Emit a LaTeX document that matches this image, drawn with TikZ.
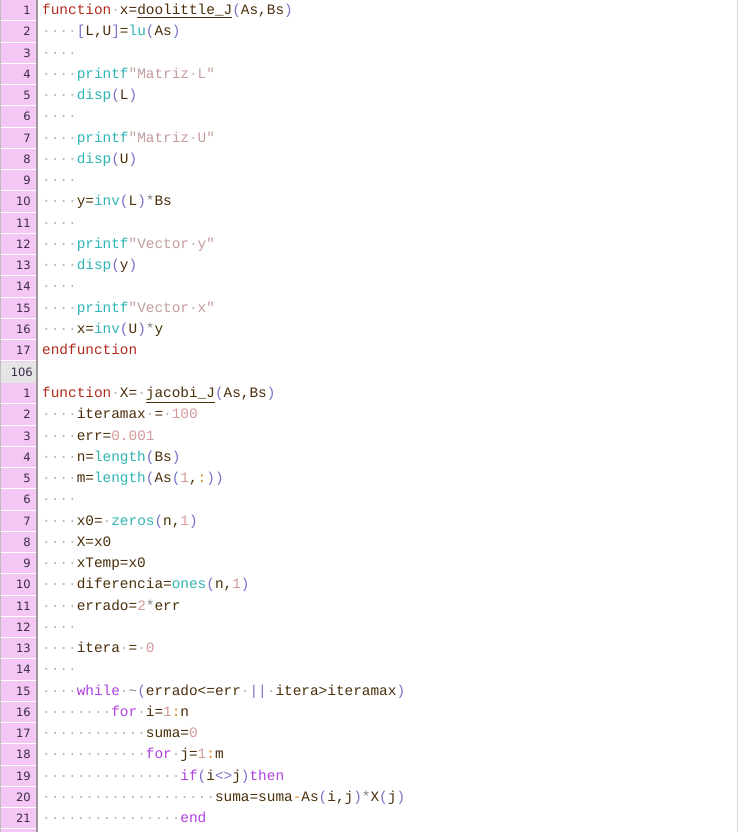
\documentclass[tikz,border=0pt]{standalone}
\usepackage{fontspec}
\setmonofont{Liberation Mono}
\newfontfamily\numfont{DejaVu Sans}
\definecolor{idc}{HTML}{4A2E0A}
\definecolor{kwc}{HTML}{B02A1E}
\definecolor{fnc}{HTML}{30B4B4}
\definecolor{pac}{HTML}{7A72C8}
\definecolor{stc}{HTML}{C49C9C}
\definecolor{nuc}{HTML}{D49A9A}
\definecolor{ctc}{HTML}{B040E0}
\definecolor{opc}{HTML}{E08A20}
\definecolor{dtc}{HTML}{B8B8B8}
\definecolor{gutc}{HTML}{F4C6F4}
\definecolor{lnc}{HTML}{3A2A4A}
\newcommand{\ckw}[1]{{\color{kwc}#1}}
\newcommand{\cfn}[1]{{\color{fnc}#1}}
\newcommand{\cpa}[1]{{\color{pac}#1}}
\newcommand{\cst}[1]{{\color{stc}#1}}
\newcommand{\cnu}[1]{{\color{nuc}#1}}
\newcommand{\cct}[1]{{\color{ctc}#1}}
\newcommand{\cop}[1]{{\color{opc}#1}}
\newcommand{\cgr}[1]{{\color{gray}#1}}
\newcommand{\dt}{{\color{dtc}·}}
\newcommand{\dfour}{\dt\dt\dt\dt}
\newcommand{\lpar}{\cpa{(}}
\newcommand{\rpar}{\cpa{)}}
\begin{document}
\begin{tikzpicture}[x=1bp,y=-1bp,
  code/.style={anchor=base west,inner sep=0pt,font=\ttfamily\fontsize{14.4bp}{17bp}\selectfont,text=idc},
  lnum/.style={anchor=base east,inner sep=0pt,font=\numfont\fontsize{11.5bp}{13bp}\selectfont,text=lnc}]
\useasboundingbox (0,0) rectangle (739,832);
\fill[white] (0,0) rectangle (739,832);
\fill[gutc] (0,0) rectangle (36,832);
\fill[black!10] (0,362) rectangle (36,382.5);
\foreach \k in {1,...,17} {\draw[white,line width=0.6bp] (0,{10+(\k-1)*21.25+10.6}) -- (36,{10+(\k-1)*21.25+10.6});}
\foreach \k in {1,...,21} {\draw[white,line width=0.6bp] (0,{393+(\k-1)*21.25+10.6}) -- (36,{393+(\k-1)*21.25+10.6});}
\draw[black!40,line width=2bp] (37,0) -- (37,832);
\draw[black!25,line width=0.8bp] (0.4,0) -- (0.4,832);
\draw[black!15,line width=1bp] (737.5,0) -- (737.5,832);
% doolittle line numbers
\foreach \k in {1,...,17} {\node[lnum] (da\k) at (31,{10+(\k-1)*21.25+4.5}) {\k};}
\node[lnum] (sep) at (33,376.5) {106};
\foreach \k in {1,...,21} {\node[lnum] (ja\k) at (31,{393+(\k-1)*21.25+4.5}) {\k};}
\newcommand{\dy}[1]{{10+(#1-1)*21.25+4.5}}
\newcommand{\jy}[1]{{393+(#1-1)*21.25+4.5}}
\node[code] (d1) at (42,\dy{1}) {\ckw{function}\dt x=\underline{doolittle\_J}\lpar As,Bs\rpar};
\node[code] (d2) at (42,\dy{2}) {\dfour\cpa{[}L,U\cpa{]}=\cfn{lu}\lpar As\rpar};
\node[code] (d3) at (42,\dy{3}) {\dfour};
\node[code] (d4) at (42,\dy{4}) {\dfour\cfn{printf}\cst{"Matriz\dt L"}};
\node[code] (d5) at (42,\dy{5}) {\dfour\cfn{disp}\lpar L\rpar};
\node[code] (d6) at (42,\dy{6}) {\dfour};
\node[code] (d7) at (42,\dy{7}) {\dfour\cfn{printf}\cst{"Matriz\dt U"}};
\node[code] (d8) at (42,\dy{8}) {\dfour\cfn{disp}\lpar U\rpar};
\node[code] (d9) at (42,\dy{9}) {\dfour};
\node[code] (d10) at (42,\dy{10}) {\dfour y=\cfn{inv}\lpar L\rpar\cgr{*}Bs};
\node[code] (d11) at (42,\dy{11}) {\dfour};
\node[code] (d12) at (42,\dy{12}) {\dfour\cfn{printf}\cst{"Vector\dt y"}};
\node[code] (d13) at (42,\dy{13}) {\dfour\cfn{disp}\lpar y\rpar};
\node[code] (d14) at (42,\dy{14}) {\dfour};
\node[code] (d15) at (42,\dy{15}) {\dfour\cfn{printf}\cst{"Vector\dt x"}};
\node[code] (d16) at (42,\dy{16}) {\dfour x=\cfn{inv}\lpar U\rpar\cgr{*}y};
\node[code] (d17) at (42,\dy{17}) {\ckw{endfunction}};
% jacobi
\node[code] (j1) at (42,\jy{1}) {\ckw{function}\dt X=\dt\underline{jacobi\_J}\lpar As,Bs\rpar};
\node[code] (j2) at (42,\jy{2}) {\dfour iteramax\dt=\dt\cnu{100}};
\node[code] (j3) at (42,\jy{3}) {\dfour err=\cnu{0.001}};
\node[code] (j4) at (42,\jy{4}) {\dfour n=\cfn{length}\lpar Bs\rpar};
\node[code] (j5) at (42,\jy{5}) {\dfour m=\cfn{length}\lpar As\lpar\cnu{1},\cop{:}\rpar\rpar};
\node[code] (j6) at (42,\jy{6}) {\dfour};
\node[code] (j7) at (42,\jy{7}) {\dfour x0=\dt\cfn{zeros}\lpar n,\cnu{1}\rpar};
\node[code] (j8) at (42,\jy{8}) {\dfour X=x0};
\node[code] (j9) at (42,\jy{9}) {\dfour xTemp=x0};
\node[code] (j10) at (42,\jy{10}) {\dfour diferencia=\cfn{ones}\lpar n,\cnu{1}\rpar};
\node[code] (j11) at (42,\jy{11}) {\dfour errado=\cnu{2}\cgr{*}err};
\node[code] (j12) at (42,\jy{12}) {\dfour};
\node[code] (j13) at (42,\jy{13}) {\dfour itera\dt=\dt\cnu{0}};
\node[code] (j14) at (42,\jy{14}) {\dfour};
\node[code] (j15) at (42,\jy{15}) {\dfour\cct{while}\dt\cgr{\textasciitilde}\lpar errado<=err\dt\cpa{||}\dt itera>iteramax\rpar};
\node[code] (j16) at (42,\jy{16}) {\dfour\dfour\cct{for}\dt i=\cnu{1}\cop{:}n};
\node[code] (j17) at (42,\jy{17}) {\dfour\dfour\dfour suma=\cnu{0}};
\node[code] (j18) at (42,\jy{18}) {\dfour\dfour\dfour\cct{for}\dt j=\cnu{1}\cop{:}m};
\node[code] (j19) at (42,\jy{19}) {\dfour\dfour\dfour\dfour\cct{if}\lpar i\cpa{<>}j\rpar\cct{then}};
\node[code] (j20) at (42,\jy{20}) {\dfour\dfour\dfour\dfour\dfour suma=suma\cop{-}As\lpar i,j\rpar\cgr{*}X\lpar j\rpar};
\node[code] (j21) at (42,\jy{21}) {\dfour\dfour\dfour\dfour\cct{end}};
\end{tikzpicture}
\end{document}
